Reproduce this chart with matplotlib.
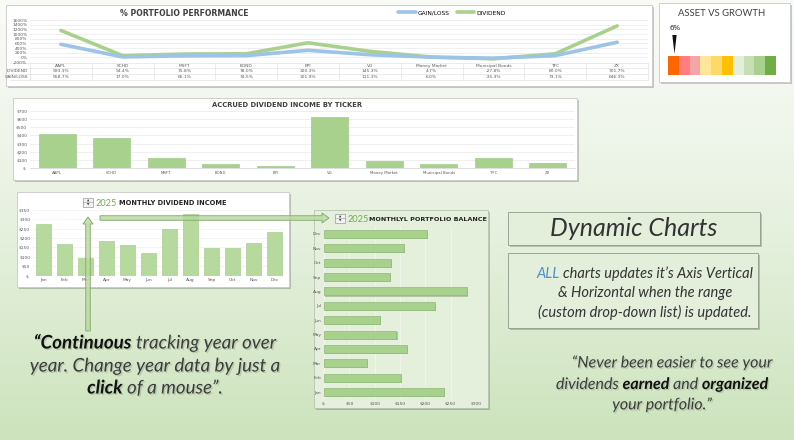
import matplotlib.pyplot as plt
import matplotlib.patheffects as pe
from matplotlib.patches import Rectangle, FancyArrow, Polygon
from matplotlib.transforms import blended_transform_factory
import numpy as np

W, H = 794, 440

tickers = ["AAPL", "SCHD", "MSFT", "BOND", "EPI", "VG", "Money Market",
           "Municipal Bonds", "TFC", "ZX"]
gain_loss_pct = [558.7, 17.0, 66.1, 74.5, 301.9, 111.3, 6.0, -35.3, 73.1, 646.3]
dividend_pct = [593.3, 54.4, 75.8, 78.0, 320.3, 145.3, 4.7, -27.8, 80.0, 701.7]
accrued_dividend = [415, 368, 127, 50, 28, 630, 86, 53, 127, 65]

months = ["Jan", "Feb", "Mar", "Apr", "May", "Jun", "Jul", "Aug", "Sep",
          "Oct", "Nov", "Dec"]
monthly_dividend = [273, 169, 93, 183, 162, 120, 251, 328, 145, 146, 176, 233]
monthly_balance = [237, 152, 85, 163, 143, 111, 219, 283, 130, 132, 158, 204]

growth_colors = ["#ff6600", "#ff7c80", "#f4a6a6", "#ffe699", "#ffd966",
                 "#ffc000", "#e2efda", "#c6e0b4", "#a9d08e", "#70ad47"]
asset_growth = 0.06
year = "2025"

GREEN = "#a9d18e"
BLUE = "#9dc3e6"
TXT = "#404040"
TINY = 3.2
FONT = "Lato"

fig = plt.figure(figsize=(W / 100, H / 100), dpi=100)


def px_axes(x0, y0, x1, y1, z=1):
    return fig.add_axes([x0 / W, 1 - y1 / H, (x1 - x0) / W, (y1 - y0) / H], zorder=z)


# background layer in pixel coordinates
bg = px_axes(0, 0, W, H, z=0)
grad = np.linspace(0, 1, 256)[:, None]
top_c = np.array([0.975, 0.982, 0.968])
bot_c = np.array([0.80, 0.89, 0.74])
img = top_c + (bot_c - top_c) * grad[..., None] ** 1.3
bg.imshow(img, extent=[0, W, H, 0], aspect="auto", zorder=0)
bg.set_xlim(0, W)
bg.set_ylim(H, 0)
bg.axis("off")


def box(x0, y0, x1, y1, fc="white", ec="#c8c8c8"):
    bg.add_patch(Rectangle((x0 + 2, y0 + 2), x1 - x0, y1 - y0, fc=(0, 0, 0, 0.2),
                           ec="none", zorder=1))
    bg.add_patch(Rectangle((x0, y0), x1 - x0, y1 - y0, fc=fc, ec=ec, lw=0.6, zorder=2))


def clean(ax):
    ax.set_facecolor("none")
    for s in ax.spines.values():
        s.set_visible(False)
    ax.tick_params(length=0, labelsize=TINY, colors="#595959", pad=2)


def money(v):
    return "$-" if v == 0 else "${:,.0f}".format(v)


# ---------------- % portfolio performance ----------------
box(6, 5, 652, 86)
ax = px_axes(30, 20, 648, 62)
clean(ax)
x = np.arange(len(tickers))
ax.plot(x, np.add(gain_loss_pct, dividend_pct), color=GREEN, lw=2.6,
        solid_capstyle="round", label="DIVIDEND")
ax.plot(x, gain_loss_pct, color=BLUE, lw=2.6, solid_capstyle="round", label="GAIN/LOSS")
ax.set_xlim(-0.5, len(tickers) - 0.5)
ax.set_ylim(-200, 1600)
ax.set_yticks(range(-200, 1601, 200))
ax.set_yticklabels(["{}%".format(v) for v in range(-200, 1601, 200)])
ax.set_xticks([])
ax.grid(axis="y", color="#e3e3e3", lw=0.4)
h, l = ax.get_legend_handles_labels()
ax.legend(h[::-1], l[::-1], loc="center", bbox_to_anchor=(452, 13),
          bbox_transform=bg.transData, ncol=2, frameon=False, fontsize=4.2,
          handlelength=3, columnspacing=1.2, handletextpad=0.4)
bg.text(184, 14, "% PORTFOLIO PERFORMANCE", fontsize=5.6, weight="bold",
        color=TXT, ha="center", va="center", zorder=3)
tt = blended_transform_factory(ax.transData, bg.transData)
for i in range(len(tickers) + 1):
    bg.plot([i - 0.5, i - 0.5], [63, 80], transform=tt, color="#dcdcdc", lw=0.4, zorder=3)
for yy in (63, 68.5, 74, 80):
    bg.plot([10, 648], [yy, yy], color="#dcdcdc", lw=0.4, zorder=3)
for i, t in enumerate(tickers):
    bg.text(i, 65.8, t, transform=tt, fontsize=TINY, color="#595959",
            ha="center", va="center", zorder=3)
    bg.text(i, 71.3, "{:.1f}%".format(dividend_pct[i]), transform=tt,
            fontsize=TINY, color="#595959", ha="center", va="center", zorder=3)
    bg.text(i, 77, "{:.1f}%".format(gain_loss_pct[i]), transform=tt,
            fontsize=TINY, color="#595959", ha="center", va="center", zorder=3)
bg.text(28, 71.3, "DIVIDEND", fontsize=TINY, color="#595959", ha="right", va="center", zorder=3)
bg.text(28, 77, "GAIN/LOSS", fontsize=TINY, color="#595959", ha="right", va="center", zorder=3)

# ---------------- asset vs growth ----------------
box(659, 3, 790, 82)
bg.text(722, 13, "ASSET VS GROWTH", fontsize=6.8, family=FONT, color=TXT, ha="center",
        va="center", zorder=3)
ag = px_axes(668, 56, 776, 75)
ag.bar(np.arange(len(growth_colors)) / len(growth_colors), 1,
       width=1 / len(growth_colors), align="edge", color=growth_colors)
ag.set_xlim(0, 1)
ag.set_ylim(0, 1)
ag.axis("off")
gt = blended_transform_factory(ag.transData, bg.transData)
bg.add_patch(Polygon([[asset_growth - 0.02, 35], [asset_growth + 0.02, 35],
                      [asset_growth, 54]], transform=gt, fc="#111111", ec="none", zorder=3))
bg.text(asset_growth + 0.01, 28, "{:.0%}".format(asset_growth), transform=gt, fontsize=5,
        color="#222222", ha="center", va="center", zorder=3)

# ---------------- accrued dividend income ----------------
box(13, 98, 577, 180)
bg.text(287, 105, "ACCRUED DIVIDEND INCOME BY TICKER", fontsize=4.9, weight="bold",
        color=TXT, ha="center", va="center", zorder=3)
ax = px_axes(30, 111, 575, 168)
clean(ax)
ax.bar(x, accrued_dividend, width=0.68, color=GREEN, edgecolor="#93c47d", lw=0.4, zorder=2)
ax.set_xlim(-0.5, len(tickers) - 0.5)
ax.set_ylim(0, 700)
ax.set_yticks(range(0, 701, 100))
ax.set_yticklabels([money(v) for v in range(0, 701, 100)])
ax.set_xticks(x)
ax.set_xticklabels(tickers, fontsize=2.8)
ax.grid(axis="y", color="#e3e3e3", lw=0.4)
ax.spines["bottom"].set_visible(True)
ax.spines["bottom"].set_color("#d0d0d0")
ax.spines["bottom"].set_linewidth(0.5)


def spinner(x0, y0):
    bg.add_patch(Rectangle((x0, y0), 10, 9, fc="#f2f2f2", ec="#9a9a9a", lw=0.5, zorder=3))
    bg.plot([x0, x0 + 10], [y0 + 4.5, y0 + 4.5], color="#9a9a9a", lw=0.4, zorder=4)
    bg.text(x0 + 5, y0 + 2.3, "▲", fontsize=2.2, ha="center", va="center", color="#333333", zorder=4)
    bg.text(x0 + 5, y0 + 6.8, "▼", fontsize=2.2, ha="center", va="center", color="#333333", zorder=4)


# ---------------- monthly dividend income ----------------
box(17, 192, 289, 287)
spinner(83, 198)
bg.text(96, 203, year, fontsize=6.6, family=FONT, color="#70ad47", ha="left", va="center", zorder=3)
bg.text(119, 203, "MONTHLY DIVIDEND INCOME", fontsize=4.8, weight="bold",
        color="#222222", ha="left", va="center", zorder=3)
ax = px_axes(33, 210, 285, 275.5)
clean(ax)
mx = np.arange(len(months))
ax.bar(mx, monthly_dividend, width=0.68, color="#b6d99e", edgecolor="#9cc77f", lw=0.4, zorder=2)
ax.set_xlim(-0.5, len(months) - 0.5)
ax.set_ylim(0, 350)
ax.set_yticks(range(0, 351, 50))
ax.set_yticklabels([money(v) for v in range(0, 351, 50)])
ax.set_xticks(mx)
ax.set_xticklabels(months)
ax.grid(axis="y", color="#ececec", lw=0.4)

# ---------------- monthly portfolio balance ----------------
box(314, 210, 488, 408, fc="#e4efdc", ec="#b8c4b0")
spinner(335, 214)
bg.text(348, 219.5, year, fontsize=6.6, family=FONT, color="#70ad47", ha="left", va="center", zorder=3)
bg.text(369, 219.5, "MONTHLYL PORTFOLIO BALANCE", fontsize=4.6, weight="bold",
        color="#222222", ha="left", va="center", zorder=3)
ax = px_axes(324, 226.8, 476, 399.2)
clean(ax)
ax.barh(mx, monthly_balance, height=0.56, color=GREEN, edgecolor="#8fb877", lw=0.5, zorder=2,
        path_effects=[pe.withSimplePatchShadow(offset=(0.8, -0.8), shadow_rgbFace="#7f9a70", alpha=0.5)])
ax.set_ylim(-0.5, len(months) - 0.5)
ax.set_xlim(0, 300)
ax.set_yticks(mx)
ax.set_yticklabels(months)
ax.set_xticks(range(0, 301, 50))
ax.set_xticklabels([money(v) for v in range(0, 301, 50)])
ax.grid(axis="x", color="#f4f8f1", lw=0.5)

# ---------------- arrows ----------------
top = px_axes(0, 0, W, H, z=3)
top.set_xlim(0, W)
top.set_ylim(H, 0)
top.axis("off")
arrow_kw = dict(fc=(0.72, 0.85, 0.62, 0.8), ec="#7fa865", lw=0.6,
                length_includes_head=True, width=4.5, head_width=10, head_length=7)
top.add_patch(FancyArrow(88, 331, 0, -114, **arrow_kw))
top.add_patch(FancyArrow(100, 218, 229, 0, **arrow_kw))

# ---------------- text boxes ----------------
box(508, 212, 760, 245, fc="#e3eedb", ec="#8f9a88")
box(508, 253, 758, 328, fc="#e3eedb", ec="#8f9a88")

renderer = fig.canvas.get_renderer()


def rich_line(xc, y, parts, size, shadow=False):
    def width(s, wgt):
        t = top.text(0, 0, s, fontsize=size, family=FONT, style="italic", weight=wgt)
        w = t.get_window_extent(renderer).width
        t.remove()
        return w
    sp = width("x x", "normal") - width("xx", "normal")
    ws = [width(s, wgt) for s, wgt, c in parts]
    xx = xc - (sum(ws) + sp * (len(parts) - 1)) / 2
    eff = [pe.withSimplePatchShadow(offset=(1, -1), shadow_rgbFace="#8a9a80", alpha=0.4)] if shadow else None
    for (s, wgt, c), w in zip(parts, ws):
        top.text(xx, y, s, fontsize=size, family=FONT, style="italic", weight=wgt,
                 color=c, ha="left", va="center", path_effects=eff)
        xx += w + sp


rich_line(634, 228, [("Dynamic Charts", "normal", "#333333")], 18)
rich_line(645, 274, [("ALL", "normal", "#4f8fd0"),
                     ("charts updates it’s Axis Vertical", "normal", "#333333")], 10.5)
rich_line(645, 293, [("& Horizontal when the range", "normal", "#333333")], 10.5)
rich_line(645, 312, [("(custom drop-down list) is updated.", "normal", "#333333")], 10.5)

DK, BK = "#3c3c3c", "#111111"
rich_line(155, 343, [("“Continuous", "bold", BK), ("tracking year over", "normal", DK)], 13.5, True)
rich_line(155, 366, [("year. Change year data by just a", "normal", DK)], 13.5, True)
rich_line(155, 388, [("click", "bold", BK), ("of a mouse”.", "normal", DK)], 13.5, True)

rich_line(672, 363, [("“Never been easier to see your", "normal", DK)], 11.5, True)
rich_line(662, 385, [("dividends", "normal", DK), ("earned", "bold", BK),
                     ("and", "normal", DK), ("organized", "bold", BK)], 11.5, True)
rich_line(662, 405, [("your portfolio.”", "normal", DK)], 11.5, True)

fig.savefig("out.png", dpi=100)
